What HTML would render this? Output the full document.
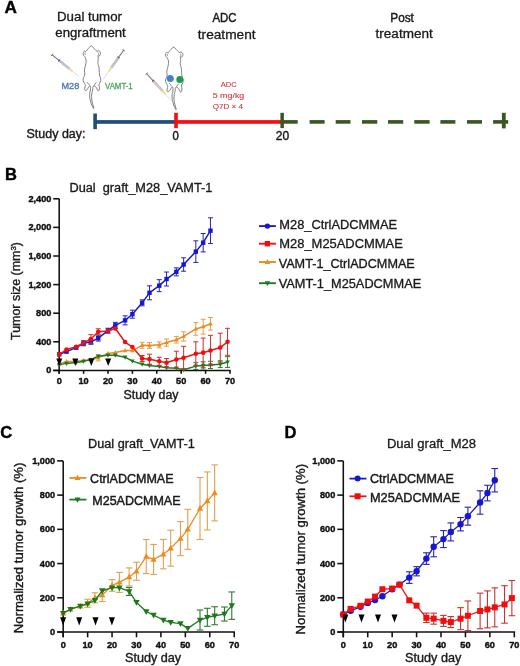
<!DOCTYPE html><html><head><meta charset="utf-8"><title>Figure</title><style>html,body{margin:0;padding:0;background:#fff;}svg{display:block;}text{font-family:'Liberation Sans', Arial, sans-serif;}</style></head><body>
<svg width="520" height="666" viewBox="0 0 520 666">
<rect width="520" height="666" fill="#fff"/>
<g transform="translate(0,0)" fill="#fff" stroke="#5e5e5e" stroke-width="0.8" stroke-linejoin="round">
<path d="M91.20,46.00 C92.40,46.00 92.00,46.52 93.20,47.60 C94.40,48.68 94.06,48.52 95.20,49.60 C96.34,50.68 95.98,50.81 97.00,51.20 C98.02,51.59 97.64,50.60 98.60,50.90 C99.56,51.20 99.72,51.09 100.20,52.20 C100.68,53.31 100.56,53.46 100.20,54.60 C99.84,55.74 99.69,55.70 99.00,56.00 C98.31,56.30 98.11,55.12 97.90,55.60 C97.69,56.08 98.24,56.13 98.30,57.60 C98.36,59.07 98.22,58.73 98.10,60.50 C97.98,62.27 97.66,61.55 97.90,63.50 C98.14,65.45 98.51,64.75 98.90,67.00 C99.29,69.25 98.99,68.60 99.20,71.00 C99.41,73.40 99.15,72.66 99.60,75.00 C100.05,77.34 100.52,76.70 100.70,78.80 C100.88,80.90 100.71,80.20 100.20,82.00 C99.69,83.80 99.21,83.06 99.00,84.80 C98.79,86.54 99.59,86.03 99.50,87.80 C99.41,89.57 99.27,90.01 98.70,90.70 C98.13,91.39 98.23,90.91 97.60,90.10 C96.97,89.29 97.38,89.14 96.60,88.00 C95.82,86.86 95.99,86.78 95.00,86.30 C94.01,85.82 94.02,85.29 93.30,86.40 C92.58,87.51 93.08,87.42 92.60,90.00 C92.12,92.58 91.88,91.70 91.70,95.00 C91.52,98.30 91.43,97.31 92.00,101.00 C92.57,104.69 93.33,105.38 93.60,107.30 C93.87,109.22 93.80,109.14 92.90,107.40 C92.00,105.66 91.56,105.22 90.60,101.50 C89.64,97.78 89.76,98.45 89.70,95.00 C89.64,91.55 90.19,92.58 90.40,90.00 C90.61,87.42 90.76,87.51 90.40,86.40 C90.04,85.29 89.98,85.67 89.20,86.30 C88.42,86.93 88.73,87.27 87.80,88.50 C86.87,89.73 87.03,90.10 86.10,90.40 C85.17,90.70 85.00,90.64 84.70,89.50 C84.40,88.36 84.92,88.01 85.10,86.60 C85.28,85.19 85.69,86.18 85.30,84.80 C84.91,83.42 84.43,83.80 83.80,82.00 C83.17,80.20 82.96,80.96 83.20,78.80 C83.44,76.64 84.21,77.62 84.60,74.80 C84.99,71.98 84.20,72.34 84.50,69.40 C84.80,66.46 85.12,67.52 85.60,65.00 C86.08,62.48 86.19,63.22 86.10,61.00 C86.01,58.78 85.81,59.04 85.30,57.60 C84.79,56.16 85.00,57.04 84.40,56.20 C83.80,55.36 83.60,55.94 83.30,54.80 C83.00,53.66 83.01,53.51 83.40,52.40 C83.79,51.29 83.88,51.40 84.60,51.10 C85.32,50.80 84.96,51.85 85.80,51.40 C86.64,50.95 86.38,50.74 87.40,49.60 C88.42,48.46 88.06,48.68 89.20,47.60 C90.34,46.52 90.00,46.00 91.20,46.00 Z"/>
<path d="M85.9,52.6 C84.8,52.8 84.6,54.4 85.6,55.0" fill="none" stroke-width="0.6"/>
<path d="M97.6,52.6 C98.7,52.8 98.9,54.4 97.9,55.0" fill="none" stroke-width="0.6"/>
<path d="M86.9,82.0 C87.9,83.2 88.8,84.2 89.6,85.4" fill="none" stroke-width="0.7"/>
<path d="M96.3,82.4 C95.4,83.6 94.6,84.6 93.9,85.7" fill="none" stroke-width="0.7"/>
</g>
<g transform="translate(82.4,1.2)" fill="#fff" stroke="#5e5e5e" stroke-width="0.8" stroke-linejoin="round">
<path d="M91.20,46.00 C92.40,46.00 92.00,46.52 93.20,47.60 C94.40,48.68 94.06,48.52 95.20,49.60 C96.34,50.68 95.98,50.81 97.00,51.20 C98.02,51.59 97.64,50.60 98.60,50.90 C99.56,51.20 99.72,51.09 100.20,52.20 C100.68,53.31 100.56,53.46 100.20,54.60 C99.84,55.74 99.69,55.70 99.00,56.00 C98.31,56.30 98.11,55.12 97.90,55.60 C97.69,56.08 98.24,56.13 98.30,57.60 C98.36,59.07 98.22,58.73 98.10,60.50 C97.98,62.27 97.66,61.55 97.90,63.50 C98.14,65.45 98.51,64.75 98.90,67.00 C99.29,69.25 98.99,68.60 99.20,71.00 C99.41,73.40 99.15,72.66 99.60,75.00 C100.05,77.34 100.52,76.70 100.70,78.80 C100.88,80.90 100.71,80.20 100.20,82.00 C99.69,83.80 99.21,83.06 99.00,84.80 C98.79,86.54 99.59,86.03 99.50,87.80 C99.41,89.57 99.27,90.01 98.70,90.70 C98.13,91.39 98.23,90.91 97.60,90.10 C96.97,89.29 97.38,89.14 96.60,88.00 C95.82,86.86 95.99,86.78 95.00,86.30 C94.01,85.82 94.02,85.29 93.30,86.40 C92.58,87.51 93.08,87.42 92.60,90.00 C92.12,92.58 91.88,91.70 91.70,95.00 C91.52,98.30 91.43,97.31 92.00,101.00 C92.57,104.69 93.33,105.38 93.60,107.30 C93.87,109.22 93.80,109.14 92.90,107.40 C92.00,105.66 91.56,105.22 90.60,101.50 C89.64,97.78 89.76,98.45 89.70,95.00 C89.64,91.55 90.19,92.58 90.40,90.00 C90.61,87.42 90.76,87.51 90.40,86.40 C90.04,85.29 89.98,85.67 89.20,86.30 C88.42,86.93 88.73,87.27 87.80,88.50 C86.87,89.73 87.03,90.10 86.10,90.40 C85.17,90.70 85.00,90.64 84.70,89.50 C84.40,88.36 84.92,88.01 85.10,86.60 C85.28,85.19 85.69,86.18 85.30,84.80 C84.91,83.42 84.43,83.80 83.80,82.00 C83.17,80.20 82.96,80.96 83.20,78.80 C83.44,76.64 84.21,77.62 84.60,74.80 C84.99,71.98 84.20,72.34 84.50,69.40 C84.80,66.46 85.12,67.52 85.60,65.00 C86.08,62.48 86.19,63.22 86.10,61.00 C86.01,58.78 85.81,59.04 85.30,57.60 C84.79,56.16 85.00,57.04 84.40,56.20 C83.80,55.36 83.60,55.94 83.30,54.80 C83.00,53.66 83.01,53.51 83.40,52.40 C83.79,51.29 83.88,51.40 84.60,51.10 C85.32,50.80 84.96,51.85 85.80,51.40 C86.64,50.95 86.38,50.74 87.40,49.60 C88.42,48.46 88.06,48.68 89.20,47.60 C90.34,46.52 90.00,46.00 91.20,46.00 Z"/>
<path d="M85.9,52.6 C84.8,52.8 84.6,54.4 85.6,55.0" fill="none" stroke-width="0.6"/>
<path d="M97.6,52.6 C98.7,52.8 98.9,54.4 97.9,55.0" fill="none" stroke-width="0.6"/>
<path d="M86.9,82.0 C87.9,83.2 88.8,84.2 89.6,85.4" fill="none" stroke-width="0.7"/>
<path d="M96.3,82.4 C95.4,83.6 94.6,84.6 93.9,85.7" fill="none" stroke-width="0.7"/>
</g>
<circle cx="170.3" cy="78.4" r="3.5" fill="#3f83d6"/>
<circle cx="179.8" cy="79.5" r="3.5" fill="#1aa04a"/>
<g transform="translate(51.9,54.6) rotate(39.09)">
<line x1="0.3" y1="-1.5" x2="0.3" y2="1.5" stroke="#6a6a6a" stroke-width="0.9"/>
<line x1="0" y1="0" x2="10.18" y2="0" stroke="#6e6e6e" stroke-width="1.0"/>
<rect x="8.84" y="-1.3" width="1.2" height="2.6" fill="#555"/>
<rect x="10.18" y="-1.05" width="12.33" height="2.1" fill="#b7c3df" stroke="#999" stroke-width="0.35"/>
<rect x="21.44" y="-0.95" width="5.36" height="1.9" fill="#eed77a" opacity="0.9"/>
<line x1="26.80" y1="0" x2="35.22" y2="0" stroke="#ddd4ec" stroke-width="0.8"/>
</g>
<g transform="translate(123.8,50.0) rotate(125.28)">
<line x1="0.3" y1="-1.5" x2="0.3" y2="1.5" stroke="#6a6a6a" stroke-width="0.9"/>
<line x1="0" y1="0" x2="9.87" y2="0" stroke="#6e6e6e" stroke-width="1.0"/>
<rect x="8.57" y="-1.3" width="1.2" height="2.6" fill="#555"/>
<rect x="9.87" y="-1.05" width="11.95" height="2.1" fill="#c4c4bc" stroke="#999" stroke-width="0.35"/>
<rect x="20.78" y="-0.95" width="5.19" height="1.9" fill="#eed77a" opacity="0.9"/>
<line x1="25.97" y1="0" x2="35.82" y2="0" stroke="#ddd4ec" stroke-width="0.8"/>
</g>
<g transform="translate(146.5,73.5) rotate(47.46)">
<line x1="0.3" y1="-1.5" x2="0.3" y2="1.5" stroke="#6a6a6a" stroke-width="0.9"/>
<line x1="0" y1="0" x2="10.62" y2="0" stroke="#6e6e6e" stroke-width="1.0"/>
<rect x="9.23" y="-1.3" width="1.2" height="2.6" fill="#555"/>
<rect x="10.62" y="-1.05" width="12.86" height="2.1" fill="#dcc4cc" stroke="#999" stroke-width="0.35"/>
<rect x="22.37" y="-0.95" width="5.59" height="1.9" fill="#eed77a" opacity="0.9"/>
<line x1="27.96" y1="0" x2="37.64" y2="0" stroke="#ddd4ec" stroke-width="0.8"/>
</g>
<text x="4.60" y="13.30" font-size="17.2" text-anchor="start" font-weight="bold" fill="#000" stroke="#000" stroke-width="0.4" >A</text>
<text x="57.00" y="21.40" font-size="12.5" text-anchor="start" font-weight="normal" fill="#1a1a1a" stroke="#1a1a1a" stroke-width="0.3103405968432488" textLength="65.00" lengthAdjust="spacingAndGlyphs" >Dual tumor</text>
<text x="55.30" y="37.20" font-size="12.5" text-anchor="start" font-weight="normal" fill="#1a1a1a" stroke="#1a1a1a" stroke-width="0.31731771595900443" textLength="70.50" lengthAdjust="spacingAndGlyphs" >engraftment</text>
<text x="212.50" y="22.30" font-size="12.5" text-anchor="start" font-weight="normal" fill="#1a1a1a" stroke="#1a1a1a" stroke-width="0.4797187893139939" textLength="24.00" lengthAdjust="spacingAndGlyphs" >ADC</text>
<text x="197.80" y="38.50" font-size="12.5" text-anchor="start" font-weight="normal" fill="#1a1a1a" stroke="#1a1a1a" stroke-width="0.27576205978100027" textLength="57.80" lengthAdjust="spacingAndGlyphs" >treatment</text>
<text x="390.30" y="22.30" font-size="12.5" text-anchor="start" font-weight="normal" fill="#1a1a1a" stroke="#1a1a1a" stroke-width="0.44208652194283926" textLength="23.60" lengthAdjust="spacingAndGlyphs" >Post</text>
<text x="375.60" y="38.40" font-size="12.5" text-anchor="start" font-weight="normal" fill="#1a1a1a" stroke="#1a1a1a" stroke-width="0.2903462562888429" textLength="57.10" lengthAdjust="spacingAndGlyphs" >treatment</text>
<text x="26.50" y="137.70" font-size="12.6" text-anchor="start" font-weight="normal" fill="#1a1a1a" stroke="#1a1a1a" stroke-width="0.38992768279374307" textLength="59.00" lengthAdjust="spacingAndGlyphs" >Study day:</text>
<text x="172.50" y="140.40" font-size="12.6" text-anchor="start" font-weight="normal" fill="#1a1a1a" stroke="#1a1a1a" stroke-width="0.49184579938184886" textLength="6.30" lengthAdjust="spacingAndGlyphs" >0</text>
<text x="275.80" y="140.40" font-size="12.6" text-anchor="start" font-weight="normal" fill="#1a1a1a" stroke="#1a1a1a" stroke-width="0.4285471199775218" textLength="13.40" lengthAdjust="spacingAndGlyphs" >20</text>
<rect x="95" y="120.1" width="81" height="3.7" fill="#1f4e79"/>
<rect x="93.3" y="113.5" width="3.6" height="15.7" fill="#1f4e79"/>
<rect x="176" y="120.1" width="106" height="3.7" fill="#f51010"/>
<rect x="174.2" y="112.8" width="3.6" height="15.4" fill="#f51010"/>
<rect x="282.0" y="120.1" width="15.7" height="3.6" fill="#385723"/>
<rect x="309.6" y="120.1" width="15.0" height="3.6" fill="#385723"/>
<rect x="335.7" y="120.1" width="14.8" height="3.6" fill="#385723"/>
<rect x="362.0" y="120.1" width="15.3" height="3.6" fill="#385723"/>
<rect x="388.0" y="120.1" width="15.2" height="3.6" fill="#385723"/>
<rect x="414.3" y="120.1" width="15.3" height="3.6" fill="#385723"/>
<rect x="440.4" y="120.1" width="15.0" height="3.6" fill="#385723"/>
<rect x="467.0" y="120.1" width="15.0" height="3.6" fill="#385723"/>
<rect x="493.1" y="120.1" width="15.1" height="3.6" fill="#385723"/>
<rect x="280.4" y="112.8" width="3.5" height="15.3" fill="#385723"/>
<rect x="501.9" y="112.8" width="3.8" height="15.6" fill="#385723"/>
<text x="220.80" y="86.70" font-size="8" text-anchor="start" font-weight="normal" fill="#cc3a3f" stroke="#cc3a3f" stroke-width="0.12" textLength="15.80" lengthAdjust="spacingAndGlyphs" >ADC</text>
<text x="212.70" y="98.30" font-size="8" text-anchor="start" font-weight="normal" fill="#cc3a3f" stroke="#cc3a3f" stroke-width="0.12" textLength="31.60" lengthAdjust="spacingAndGlyphs" >5 mg/kg</text>
<text x="212.70" y="109.20" font-size="8" text-anchor="start" font-weight="normal" fill="#cc3a3f" stroke="#cc3a3f" stroke-width="0.12" textLength="30.20" lengthAdjust="spacingAndGlyphs" >Q7D × 4</text>
<text x="61.50" y="88.60" font-size="8.4" text-anchor="start" font-weight="normal" fill="#4a78b0" stroke="#4a78b0" stroke-width="0.3" textLength="17.80" lengthAdjust="spacingAndGlyphs" >M28</text>
<text x="105.00" y="88.60" font-size="8.4" text-anchor="start" font-weight="normal" fill="#4aa460" stroke="#4aa460" stroke-width="0.3" textLength="27.70" lengthAdjust="spacingAndGlyphs" >VAMT-1</text>
<text x="5.00" y="179.60" font-size="16.5" text-anchor="start" font-weight="bold" fill="#000" stroke="#000" stroke-width="0.4" >B</text>
<text x="69.50" y="191.60" font-size="12" text-anchor="start" font-weight="normal" fill="#1a1a1a" stroke="#1a1a1a" stroke-width="0.3147820995399414" textLength="142.80" lengthAdjust="spacingAndGlyphs" >Dual&#160; graft_M28_VAMT-1</text>
<line x1="59.2" y1="198.79999999999995" x2="59.2" y2="373.79999999999995" stroke="#111" stroke-width="1.55"/>
<line x1="53.2" y1="370.4" x2="230.775" y2="370.4" stroke="#111" stroke-width="1.55"/>
<line x1="53.2" y1="370.40" x2="59.2" y2="370.40" stroke="#111" stroke-width="1.55"/>
<text x="51.40" y="373.40" font-size="9.2" text-anchor="end" font-weight="bold" fill="#111" stroke="#111" stroke-width="0.4" >0</text>
<line x1="53.2" y1="341.80" x2="59.2" y2="341.80" stroke="#111" stroke-width="1.55"/>
<text x="51.40" y="344.80" font-size="9.2" text-anchor="end" font-weight="bold" fill="#111" stroke="#111" stroke-width="0.4" >400</text>
<line x1="53.2" y1="313.20" x2="59.2" y2="313.20" stroke="#111" stroke-width="1.55"/>
<text x="51.40" y="316.20" font-size="9.2" text-anchor="end" font-weight="bold" fill="#111" stroke="#111" stroke-width="0.4" >800</text>
<line x1="53.2" y1="284.60" x2="59.2" y2="284.60" stroke="#111" stroke-width="1.55"/>
<text x="51.40" y="287.60" font-size="9.2" text-anchor="end" font-weight="bold" fill="#111" stroke="#111" stroke-width="0.4" >1,200</text>
<line x1="53.2" y1="256.00" x2="59.2" y2="256.00" stroke="#111" stroke-width="1.55"/>
<text x="51.40" y="259.00" font-size="9.2" text-anchor="end" font-weight="bold" fill="#111" stroke="#111" stroke-width="0.4" >1,600</text>
<line x1="53.2" y1="227.40" x2="59.2" y2="227.40" stroke="#111" stroke-width="1.55"/>
<text x="51.40" y="230.40" font-size="9.2" text-anchor="end" font-weight="bold" fill="#111" stroke="#111" stroke-width="0.4" >2,000</text>
<line x1="53.2" y1="198.80" x2="59.2" y2="198.80" stroke="#111" stroke-width="1.55"/>
<text x="51.40" y="201.80" font-size="9.2" text-anchor="end" font-weight="bold" fill="#111" stroke="#111" stroke-width="0.4" >2,400</text>
<line x1="59.20" y1="370.4" x2="59.20" y2="373.79999999999995" stroke="#111" stroke-width="1.55"/>
<text x="59.20" y="383.60" font-size="9.2" text-anchor="middle" font-weight="bold" fill="#111" stroke="#111" stroke-width="0.4" >0</text>
<line x1="83.60" y1="370.4" x2="83.60" y2="373.79999999999995" stroke="#111" stroke-width="1.55"/>
<text x="83.60" y="383.60" font-size="9.2" text-anchor="middle" font-weight="bold" fill="#111" stroke="#111" stroke-width="0.4" >10</text>
<line x1="108.00" y1="370.4" x2="108.00" y2="373.79999999999995" stroke="#111" stroke-width="1.55"/>
<text x="108.00" y="383.60" font-size="9.2" text-anchor="middle" font-weight="bold" fill="#111" stroke="#111" stroke-width="0.4" >20</text>
<line x1="132.40" y1="370.4" x2="132.40" y2="373.79999999999995" stroke="#111" stroke-width="1.55"/>
<text x="132.40" y="383.60" font-size="9.2" text-anchor="middle" font-weight="bold" fill="#111" stroke="#111" stroke-width="0.4" >30</text>
<line x1="156.80" y1="370.4" x2="156.80" y2="373.79999999999995" stroke="#111" stroke-width="1.55"/>
<text x="156.80" y="383.60" font-size="9.2" text-anchor="middle" font-weight="bold" fill="#111" stroke="#111" stroke-width="0.4" >40</text>
<line x1="181.20" y1="370.4" x2="181.20" y2="373.79999999999995" stroke="#111" stroke-width="1.55"/>
<text x="181.20" y="383.60" font-size="9.2" text-anchor="middle" font-weight="bold" fill="#111" stroke="#111" stroke-width="0.4" >50</text>
<line x1="205.60" y1="370.4" x2="205.60" y2="373.79999999999995" stroke="#111" stroke-width="1.55"/>
<text x="205.60" y="383.60" font-size="9.2" text-anchor="middle" font-weight="bold" fill="#111" stroke="#111" stroke-width="0.4" >60</text>
<line x1="230.00" y1="370.4" x2="230.00" y2="373.79999999999995" stroke="#111" stroke-width="1.55"/>
<text x="230.00" y="383.60" font-size="9.2" text-anchor="middle" font-weight="bold" fill="#111" stroke="#111" stroke-width="0.4" >70</text>
<text x="123.50" y="398.80" font-size="12.6" text-anchor="start" font-weight="normal" fill="#1a1a1a" stroke="#1a1a1a" stroke-width="0.4004334633357927" textLength="55.00" lengthAdjust="spacingAndGlyphs" >Study day</text>
<text transform="translate(20.2,340) rotate(-90)" font-size="12.6" fill="#1a1a1a" stroke="#1a1a1a" stroke-width="0.38" textLength="98" lengthAdjust="spacingAndGlyphs">Tumor size (mm<tspan font-size="8" dy="-4.5">3</tspan><tspan dy="4.5">)</tspan></text>
<line x1="98.24" y1="354.89" x2="98.24" y2="360.89" stroke="#e0a050" stroke-width="1.0"/>
<line x1="95.74" y1="354.89" x2="100.74" y2="354.89" stroke="#e0a050" stroke-width="1.0"/>
<line x1="95.74" y1="360.89" x2="100.74" y2="360.89" stroke="#e0a050" stroke-width="1.0"/>
<line x1="142.16" y1="342.30" x2="142.16" y2="348.30" stroke="#e0a050" stroke-width="1.0"/>
<line x1="139.66" y1="342.30" x2="144.66" y2="342.30" stroke="#e0a050" stroke-width="1.0"/>
<line x1="139.66" y1="348.30" x2="144.66" y2="348.30" stroke="#e0a050" stroke-width="1.0"/>
<line x1="149.48" y1="342.59" x2="149.48" y2="348.59" stroke="#e0a050" stroke-width="1.0"/>
<line x1="146.98" y1="342.59" x2="151.98" y2="342.59" stroke="#e0a050" stroke-width="1.0"/>
<line x1="146.98" y1="348.59" x2="151.98" y2="348.59" stroke="#e0a050" stroke-width="1.0"/>
<line x1="159.24" y1="341.87" x2="159.24" y2="347.87" stroke="#e0a050" stroke-width="1.0"/>
<line x1="156.74" y1="341.87" x2="161.74" y2="341.87" stroke="#e0a050" stroke-width="1.0"/>
<line x1="156.74" y1="347.87" x2="161.74" y2="347.87" stroke="#e0a050" stroke-width="1.0"/>
<line x1="166.56" y1="338.99" x2="166.56" y2="346.19" stroke="#e0a050" stroke-width="1.0"/>
<line x1="164.06" y1="338.99" x2="169.06" y2="338.99" stroke="#e0a050" stroke-width="1.0"/>
<line x1="164.06" y1="346.19" x2="169.06" y2="346.19" stroke="#e0a050" stroke-width="1.0"/>
<line x1="176.32" y1="336.43" x2="176.32" y2="343.03" stroke="#e0a050" stroke-width="1.0"/>
<line x1="173.82" y1="336.43" x2="178.82" y2="336.43" stroke="#e0a050" stroke-width="1.0"/>
<line x1="173.82" y1="343.03" x2="178.82" y2="343.03" stroke="#e0a050" stroke-width="1.0"/>
<line x1="183.64" y1="331.74" x2="183.64" y2="341.14" stroke="#e0a050" stroke-width="1.0"/>
<line x1="181.14" y1="331.74" x2="186.14" y2="331.74" stroke="#e0a050" stroke-width="1.0"/>
<line x1="181.14" y1="341.14" x2="186.14" y2="341.14" stroke="#e0a050" stroke-width="1.0"/>
<line x1="195.84" y1="322.63" x2="195.84" y2="335.23" stroke="#e0a050" stroke-width="1.0"/>
<line x1="193.34" y1="322.63" x2="198.34" y2="322.63" stroke="#e0a050" stroke-width="1.0"/>
<line x1="193.34" y1="335.23" x2="198.34" y2="335.23" stroke="#e0a050" stroke-width="1.0"/>
<line x1="203.16" y1="319.31" x2="203.16" y2="334.11" stroke="#e0a050" stroke-width="1.0"/>
<line x1="200.66" y1="319.31" x2="205.66" y2="319.31" stroke="#e0a050" stroke-width="1.0"/>
<line x1="200.66" y1="334.11" x2="205.66" y2="334.11" stroke="#e0a050" stroke-width="1.0"/>
<line x1="210.48" y1="317.48" x2="210.48" y2="330.08" stroke="#e0a050" stroke-width="1.0"/>
<line x1="207.98" y1="317.48" x2="212.98" y2="317.48" stroke="#e0a050" stroke-width="1.0"/>
<line x1="207.98" y1="330.08" x2="212.98" y2="330.08" stroke="#e0a050" stroke-width="1.0"/>
<path d="M59.20,363.96 L66.52,361.39 L76.28,361.25 L83.60,360.39 L90.92,359.67 L98.24,357.89 L108.00,353.38 L115.32,352.60 L125.08,350.59 L132.40,350.59 L142.16,345.30 L149.48,345.59 L159.24,344.87 L166.56,342.59 L176.32,339.73 L183.64,336.44 L195.84,328.93 L203.16,326.71 L210.48,323.78" fill="none" stroke="#e68c2c" stroke-width="1.5" stroke-linejoin="round"/>
<path d="M59.20,361.48 L61.50,365.62 L56.90,365.62 Z" fill="#f28a18"/>
<path d="M66.52,358.91 L68.82,363.05 L64.22,363.05 Z" fill="#f28a18"/>
<path d="M76.28,358.76 L78.58,362.90 L73.98,362.90 Z" fill="#f28a18"/>
<path d="M83.60,357.91 L85.90,362.05 L81.30,362.05 Z" fill="#f28a18"/>
<path d="M90.92,357.19 L93.22,361.33 L88.62,361.33 Z" fill="#f28a18"/>
<path d="M98.24,355.40 L100.54,359.54 L95.94,359.54 Z" fill="#f28a18"/>
<path d="M108.00,350.90 L110.30,355.04 L105.70,355.04 Z" fill="#f28a18"/>
<path d="M115.32,350.11 L117.62,354.25 L113.02,354.25 Z" fill="#f28a18"/>
<path d="M125.08,348.11 L127.38,352.25 L122.78,352.25 Z" fill="#f28a18"/>
<path d="M132.40,348.11 L134.70,352.25 L130.10,352.25 Z" fill="#f28a18"/>
<path d="M142.16,342.82 L144.46,346.96 L139.86,346.96 Z" fill="#f28a18"/>
<path d="M149.48,343.11 L151.78,347.25 L147.18,347.25 Z" fill="#f28a18"/>
<path d="M159.24,342.39 L161.54,346.53 L156.94,346.53 Z" fill="#f28a18"/>
<path d="M166.56,340.10 L168.86,344.24 L164.26,344.24 Z" fill="#f28a18"/>
<path d="M176.32,337.24 L178.62,341.38 L174.02,341.38 Z" fill="#f28a18"/>
<path d="M183.64,333.95 L185.94,338.09 L181.34,338.09 Z" fill="#f28a18"/>
<path d="M195.84,326.45 L198.14,330.59 L193.54,330.59 Z" fill="#f28a18"/>
<path d="M203.16,324.23 L205.46,328.37 L200.86,328.37 Z" fill="#f28a18"/>
<path d="M210.48,321.30 L212.78,325.44 L208.18,325.44 Z" fill="#f28a18"/>
<line x1="195.84" y1="362.71" x2="195.84" y2="369.51" stroke="#2f7a2f" stroke-width="1.0"/>
<line x1="193.34" y1="362.71" x2="198.34" y2="362.71" stroke="#2f7a2f" stroke-width="1.0"/>
<line x1="193.34" y1="369.51" x2="198.34" y2="369.51" stroke="#2f7a2f" stroke-width="1.0"/>
<line x1="203.16" y1="361.79" x2="203.16" y2="369.00" stroke="#2f7a2f" stroke-width="1.0"/>
<line x1="200.66" y1="361.79" x2="205.66" y2="361.79" stroke="#2f7a2f" stroke-width="1.0"/>
<line x1="200.66" y1="369.00" x2="205.66" y2="369.00" stroke="#2f7a2f" stroke-width="1.0"/>
<line x1="210.48" y1="361.29" x2="210.48" y2="368.49" stroke="#2f7a2f" stroke-width="1.0"/>
<line x1="207.98" y1="361.29" x2="212.98" y2="361.29" stroke="#2f7a2f" stroke-width="1.0"/>
<line x1="207.98" y1="368.49" x2="212.98" y2="368.49" stroke="#2f7a2f" stroke-width="1.0"/>
<line x1="220.24" y1="360.78" x2="220.24" y2="367.58" stroke="#2f7a2f" stroke-width="1.0"/>
<line x1="217.74" y1="360.78" x2="222.74" y2="360.78" stroke="#2f7a2f" stroke-width="1.0"/>
<line x1="217.74" y1="367.58" x2="222.74" y2="367.58" stroke="#2f7a2f" stroke-width="1.0"/>
<line x1="227.56" y1="356.63" x2="227.56" y2="367.43" stroke="#2f7a2f" stroke-width="1.0"/>
<line x1="225.06" y1="356.63" x2="230.06" y2="356.63" stroke="#2f7a2f" stroke-width="1.0"/>
<line x1="225.06" y1="367.43" x2="230.06" y2="367.43" stroke="#2f7a2f" stroke-width="1.0"/>
<path d="M59.20,364.89 L66.52,363.39 L76.28,362.61 L83.60,361.39 L90.92,359.53 L98.24,356.17 L108.00,355.17 L115.32,355.17 L125.08,357.17 L132.40,361.10 L142.16,364.18 L149.48,365.61 L159.24,366.61 L166.56,367.68 L176.32,368.18 L183.64,369.83 L195.84,366.11 L203.16,365.39 L210.48,364.89 L220.24,364.18 L227.56,362.03" fill="none" stroke="#237823" stroke-width="1.5" stroke-linejoin="round"/>
<path d="M59.20,367.38 L61.50,363.24 L56.90,363.24 Z" fill="#1a7a1a"/>
<path d="M66.52,365.88 L68.82,361.74 L64.22,361.74 Z" fill="#1a7a1a"/>
<path d="M76.28,365.09 L78.58,360.95 L73.98,360.95 Z" fill="#1a7a1a"/>
<path d="M83.60,363.87 L85.90,359.73 L81.30,359.73 Z" fill="#1a7a1a"/>
<path d="M90.92,362.02 L93.22,357.88 L88.62,357.88 Z" fill="#1a7a1a"/>
<path d="M98.24,358.66 L100.54,354.52 L95.94,354.52 Z" fill="#1a7a1a"/>
<path d="M108.00,357.65 L110.30,353.51 L105.70,353.51 Z" fill="#1a7a1a"/>
<path d="M115.32,357.65 L117.62,353.51 L113.02,353.51 Z" fill="#1a7a1a"/>
<path d="M125.08,359.66 L127.38,355.52 L122.78,355.52 Z" fill="#1a7a1a"/>
<path d="M132.40,363.59 L134.70,359.45 L130.10,359.45 Z" fill="#1a7a1a"/>
<path d="M142.16,366.66 L144.46,362.52 L139.86,362.52 Z" fill="#1a7a1a"/>
<path d="M149.48,368.09 L151.78,363.95 L147.18,363.95 Z" fill="#1a7a1a"/>
<path d="M159.24,369.09 L161.54,364.95 L156.94,364.95 Z" fill="#1a7a1a"/>
<path d="M166.56,370.17 L168.86,366.03 L164.26,366.03 Z" fill="#1a7a1a"/>
<path d="M176.32,370.67 L178.62,366.53 L174.02,366.53 Z" fill="#1a7a1a"/>
<path d="M183.64,372.31 L185.94,368.17 L181.34,368.17 Z" fill="#1a7a1a"/>
<path d="M195.84,368.59 L198.14,364.45 L193.54,364.45 Z" fill="#1a7a1a"/>
<path d="M203.16,367.88 L205.46,363.74 L200.86,363.74 Z" fill="#1a7a1a"/>
<path d="M210.48,367.38 L212.78,363.24 L208.18,363.24 Z" fill="#1a7a1a"/>
<path d="M220.24,366.66 L222.54,362.52 L217.94,362.52 Z" fill="#1a7a1a"/>
<path d="M227.56,364.52 L229.86,360.38 L225.26,360.38 Z" fill="#1a7a1a"/>
<line x1="83.60" y1="340.73" x2="83.60" y2="345.73" stroke="#2424b4" stroke-width="1.0"/>
<line x1="81.10" y1="340.73" x2="86.10" y2="340.73" stroke="#2424b4" stroke-width="1.0"/>
<line x1="81.10" y1="345.73" x2="86.10" y2="345.73" stroke="#2424b4" stroke-width="1.0"/>
<line x1="90.92" y1="339.30" x2="90.92" y2="344.30" stroke="#2424b4" stroke-width="1.0"/>
<line x1="88.42" y1="339.30" x2="93.42" y2="339.30" stroke="#2424b4" stroke-width="1.0"/>
<line x1="88.42" y1="344.30" x2="93.42" y2="344.30" stroke="#2424b4" stroke-width="1.0"/>
<line x1="98.24" y1="335.08" x2="98.24" y2="341.08" stroke="#2424b4" stroke-width="1.0"/>
<line x1="95.74" y1="335.08" x2="100.74" y2="335.08" stroke="#2424b4" stroke-width="1.0"/>
<line x1="95.74" y1="341.08" x2="100.74" y2="341.08" stroke="#2424b4" stroke-width="1.0"/>
<line x1="108.00" y1="328.22" x2="108.00" y2="333.22" stroke="#2424b4" stroke-width="1.0"/>
<line x1="105.50" y1="328.22" x2="110.50" y2="328.22" stroke="#2424b4" stroke-width="1.0"/>
<line x1="105.50" y1="333.22" x2="110.50" y2="333.22" stroke="#2424b4" stroke-width="1.0"/>
<line x1="115.32" y1="322.35" x2="115.32" y2="328.35" stroke="#2424b4" stroke-width="1.0"/>
<line x1="112.82" y1="322.35" x2="117.82" y2="322.35" stroke="#2424b4" stroke-width="1.0"/>
<line x1="112.82" y1="328.35" x2="117.82" y2="328.35" stroke="#2424b4" stroke-width="1.0"/>
<line x1="125.08" y1="315.85" x2="125.08" y2="324.85" stroke="#2424b4" stroke-width="1.0"/>
<line x1="122.58" y1="315.85" x2="127.58" y2="315.85" stroke="#2424b4" stroke-width="1.0"/>
<line x1="122.58" y1="324.85" x2="127.58" y2="324.85" stroke="#2424b4" stroke-width="1.0"/>
<line x1="132.40" y1="310.20" x2="132.40" y2="318.20" stroke="#2424b4" stroke-width="1.0"/>
<line x1="129.90" y1="310.20" x2="134.90" y2="310.20" stroke="#2424b4" stroke-width="1.0"/>
<line x1="129.90" y1="318.20" x2="134.90" y2="318.20" stroke="#2424b4" stroke-width="1.0"/>
<line x1="142.16" y1="299.83" x2="142.16" y2="305.83" stroke="#2424b4" stroke-width="1.0"/>
<line x1="139.66" y1="299.83" x2="144.66" y2="299.83" stroke="#2424b4" stroke-width="1.0"/>
<line x1="139.66" y1="305.83" x2="144.66" y2="305.83" stroke="#2424b4" stroke-width="1.0"/>
<line x1="149.48" y1="285.82" x2="149.48" y2="299.82" stroke="#2424b4" stroke-width="1.0"/>
<line x1="146.98" y1="285.82" x2="151.98" y2="285.82" stroke="#2424b4" stroke-width="1.0"/>
<line x1="146.98" y1="299.82" x2="151.98" y2="299.82" stroke="#2424b4" stroke-width="1.0"/>
<line x1="159.24" y1="279.67" x2="159.24" y2="291.67" stroke="#2424b4" stroke-width="1.0"/>
<line x1="156.74" y1="279.67" x2="161.74" y2="279.67" stroke="#2424b4" stroke-width="1.0"/>
<line x1="156.74" y1="291.67" x2="161.74" y2="291.67" stroke="#2424b4" stroke-width="1.0"/>
<line x1="166.56" y1="272.02" x2="166.56" y2="286.02" stroke="#2424b4" stroke-width="1.0"/>
<line x1="164.06" y1="272.02" x2="169.06" y2="272.02" stroke="#2424b4" stroke-width="1.0"/>
<line x1="164.06" y1="286.02" x2="169.06" y2="286.02" stroke="#2424b4" stroke-width="1.0"/>
<line x1="176.32" y1="267.87" x2="176.32" y2="275.87" stroke="#2424b4" stroke-width="1.0"/>
<line x1="173.82" y1="267.87" x2="178.82" y2="267.87" stroke="#2424b4" stroke-width="1.0"/>
<line x1="173.82" y1="275.87" x2="178.82" y2="275.87" stroke="#2424b4" stroke-width="1.0"/>
<line x1="183.64" y1="257.81" x2="183.64" y2="271.21" stroke="#2424b4" stroke-width="1.0"/>
<line x1="181.14" y1="257.81" x2="186.14" y2="257.81" stroke="#2424b4" stroke-width="1.0"/>
<line x1="181.14" y1="271.21" x2="186.14" y2="271.21" stroke="#2424b4" stroke-width="1.0"/>
<line x1="195.84" y1="240.84" x2="195.84" y2="262.44" stroke="#2424b4" stroke-width="1.0"/>
<line x1="193.34" y1="240.84" x2="198.34" y2="240.84" stroke="#2424b4" stroke-width="1.0"/>
<line x1="193.34" y1="262.44" x2="198.34" y2="262.44" stroke="#2424b4" stroke-width="1.0"/>
<line x1="203.16" y1="233.50" x2="203.16" y2="251.90" stroke="#2424b4" stroke-width="1.0"/>
<line x1="200.66" y1="233.50" x2="205.66" y2="233.50" stroke="#2424b4" stroke-width="1.0"/>
<line x1="200.66" y1="251.90" x2="205.66" y2="251.90" stroke="#2424b4" stroke-width="1.0"/>
<line x1="210.48" y1="217.79" x2="210.48" y2="243.59" stroke="#2424b4" stroke-width="1.0"/>
<line x1="207.98" y1="217.79" x2="212.98" y2="217.79" stroke="#2424b4" stroke-width="1.0"/>
<line x1="207.98" y1="243.59" x2="212.98" y2="243.59" stroke="#2424b4" stroke-width="1.0"/>
<path d="M59.20,354.38 L66.52,351.67 L76.28,347.66 L83.60,343.23 L90.92,341.80 L98.24,338.08 L108.00,330.72 L115.32,325.35 L125.08,320.35 L132.40,314.20 L142.16,302.83 L149.48,292.82 L159.24,285.67 L166.56,279.02 L176.32,271.87 L183.64,264.51 L195.84,251.64 L203.16,242.70 L210.48,230.69" fill="none" stroke="#1c1cc4" stroke-width="1.5" stroke-linejoin="round"/>
<rect x="57.00" y="352.18" width="4.40" height="4.40" fill="#1616d8"/>
<rect x="64.32" y="349.47" width="4.40" height="4.40" fill="#1616d8"/>
<rect x="74.08" y="345.46" width="4.40" height="4.40" fill="#1616d8"/>
<rect x="81.40" y="341.03" width="4.40" height="4.40" fill="#1616d8"/>
<rect x="88.72" y="339.60" width="4.40" height="4.40" fill="#1616d8"/>
<rect x="96.04" y="335.88" width="4.40" height="4.40" fill="#1616d8"/>
<rect x="105.80" y="328.52" width="4.40" height="4.40" fill="#1616d8"/>
<rect x="113.12" y="323.15" width="4.40" height="4.40" fill="#1616d8"/>
<rect x="122.88" y="318.15" width="4.40" height="4.40" fill="#1616d8"/>
<rect x="130.20" y="312.00" width="4.40" height="4.40" fill="#1616d8"/>
<rect x="139.96" y="300.63" width="4.40" height="4.40" fill="#1616d8"/>
<rect x="147.28" y="290.62" width="4.40" height="4.40" fill="#1616d8"/>
<rect x="157.04" y="283.47" width="4.40" height="4.40" fill="#1616d8"/>
<rect x="164.36" y="276.82" width="4.40" height="4.40" fill="#1616d8"/>
<rect x="174.12" y="269.67" width="4.40" height="4.40" fill="#1616d8"/>
<rect x="181.44" y="262.31" width="4.40" height="4.40" fill="#1616d8"/>
<rect x="193.64" y="249.44" width="4.40" height="4.40" fill="#1616d8"/>
<rect x="200.96" y="240.50" width="4.40" height="4.40" fill="#1616d8"/>
<rect x="208.28" y="228.49" width="4.40" height="4.40" fill="#1616d8"/>
<line x1="90.92" y1="334.64" x2="90.92" y2="343.24" stroke="#cc3030" stroke-width="1.0"/>
<line x1="88.42" y1="334.64" x2="93.42" y2="334.64" stroke="#cc3030" stroke-width="1.0"/>
<line x1="88.42" y1="343.24" x2="93.42" y2="343.24" stroke="#cc3030" stroke-width="1.0"/>
<line x1="98.24" y1="328.79" x2="98.24" y2="334.79" stroke="#cc3030" stroke-width="1.0"/>
<line x1="95.74" y1="328.79" x2="100.74" y2="328.79" stroke="#cc3030" stroke-width="1.0"/>
<line x1="95.74" y1="334.79" x2="100.74" y2="334.79" stroke="#cc3030" stroke-width="1.0"/>
<line x1="142.16" y1="355.53" x2="142.16" y2="361.53" stroke="#cc3030" stroke-width="1.0"/>
<line x1="139.66" y1="355.53" x2="144.66" y2="355.53" stroke="#cc3030" stroke-width="1.0"/>
<line x1="139.66" y1="361.53" x2="144.66" y2="361.53" stroke="#cc3030" stroke-width="1.0"/>
<line x1="149.48" y1="354.17" x2="149.48" y2="364.17" stroke="#cc3030" stroke-width="1.0"/>
<line x1="146.98" y1="354.17" x2="151.98" y2="354.17" stroke="#cc3030" stroke-width="1.0"/>
<line x1="146.98" y1="364.17" x2="151.98" y2="364.17" stroke="#cc3030" stroke-width="1.0"/>
<line x1="159.24" y1="357.32" x2="159.24" y2="365.32" stroke="#cc3030" stroke-width="1.0"/>
<line x1="156.74" y1="357.32" x2="161.74" y2="357.32" stroke="#cc3030" stroke-width="1.0"/>
<line x1="156.74" y1="365.32" x2="161.74" y2="365.32" stroke="#cc3030" stroke-width="1.0"/>
<line x1="166.56" y1="358.52" x2="166.56" y2="367.12" stroke="#cc3030" stroke-width="1.0"/>
<line x1="164.06" y1="358.52" x2="169.06" y2="358.52" stroke="#cc3030" stroke-width="1.0"/>
<line x1="164.06" y1="367.12" x2="169.06" y2="367.12" stroke="#cc3030" stroke-width="1.0"/>
<line x1="176.32" y1="351.23" x2="176.32" y2="367.83" stroke="#cc3030" stroke-width="1.0"/>
<line x1="173.82" y1="351.23" x2="178.82" y2="351.23" stroke="#cc3030" stroke-width="1.0"/>
<line x1="173.82" y1="367.83" x2="178.82" y2="367.83" stroke="#cc3030" stroke-width="1.0"/>
<line x1="183.64" y1="346.34" x2="183.64" y2="369.14" stroke="#cc3030" stroke-width="1.0"/>
<line x1="181.14" y1="346.34" x2="186.14" y2="346.34" stroke="#cc3030" stroke-width="1.0"/>
<line x1="181.14" y1="369.14" x2="186.14" y2="369.14" stroke="#cc3030" stroke-width="1.0"/>
<line x1="195.84" y1="341.84" x2="195.84" y2="365.64" stroke="#cc3030" stroke-width="1.0"/>
<line x1="193.34" y1="341.84" x2="198.34" y2="341.84" stroke="#cc3030" stroke-width="1.0"/>
<line x1="193.34" y1="365.64" x2="198.34" y2="365.64" stroke="#cc3030" stroke-width="1.0"/>
<line x1="203.16" y1="338.07" x2="203.16" y2="367.27" stroke="#cc3030" stroke-width="1.0"/>
<line x1="200.66" y1="338.07" x2="205.66" y2="338.07" stroke="#cc3030" stroke-width="1.0"/>
<line x1="200.66" y1="367.27" x2="205.66" y2="367.27" stroke="#cc3030" stroke-width="1.0"/>
<line x1="210.48" y1="335.32" x2="210.48" y2="365.72" stroke="#cc3030" stroke-width="1.0"/>
<line x1="207.98" y1="335.32" x2="212.98" y2="335.32" stroke="#cc3030" stroke-width="1.0"/>
<line x1="207.98" y1="365.72" x2="212.98" y2="365.72" stroke="#cc3030" stroke-width="1.0"/>
<line x1="220.24" y1="333.19" x2="220.24" y2="361.99" stroke="#cc3030" stroke-width="1.0"/>
<line x1="217.74" y1="333.19" x2="222.74" y2="333.19" stroke="#cc3030" stroke-width="1.0"/>
<line x1="217.74" y1="361.99" x2="222.74" y2="361.99" stroke="#cc3030" stroke-width="1.0"/>
<line x1="227.56" y1="328.30" x2="227.56" y2="355.30" stroke="#cc3030" stroke-width="1.0"/>
<line x1="225.06" y1="328.30" x2="230.06" y2="328.30" stroke="#cc3030" stroke-width="1.0"/>
<line x1="225.06" y1="355.30" x2="230.06" y2="355.30" stroke="#cc3030" stroke-width="1.0"/>
<path d="M59.20,354.38 L66.52,349.59 L76.28,346.73 L83.60,342.87 L90.92,338.94 L98.24,331.79 L108.00,330.93 L115.32,328.50 L125.08,342.01 L132.40,347.02 L142.16,358.53 L149.48,359.17 L159.24,361.32 L166.56,362.82 L176.32,359.53 L183.64,357.74 L195.84,353.74 L203.16,352.67 L210.48,350.52 L220.24,347.59 L227.56,341.80" fill="none" stroke="#e81818" stroke-width="1.5" stroke-linejoin="round"/>
<circle cx="59.20" cy="354.38" r="2.30" fill="#f20c0c"/>
<circle cx="66.52" cy="349.59" r="2.30" fill="#f20c0c"/>
<circle cx="76.28" cy="346.73" r="2.30" fill="#f20c0c"/>
<circle cx="83.60" cy="342.87" r="2.30" fill="#f20c0c"/>
<circle cx="90.92" cy="338.94" r="2.30" fill="#f20c0c"/>
<circle cx="98.24" cy="331.79" r="2.30" fill="#f20c0c"/>
<circle cx="108.00" cy="330.93" r="2.30" fill="#f20c0c"/>
<circle cx="115.32" cy="328.50" r="2.30" fill="#f20c0c"/>
<circle cx="125.08" cy="342.01" r="2.30" fill="#f20c0c"/>
<circle cx="132.40" cy="347.02" r="2.30" fill="#f20c0c"/>
<circle cx="142.16" cy="358.53" r="2.30" fill="#f20c0c"/>
<circle cx="149.48" cy="359.17" r="2.30" fill="#f20c0c"/>
<circle cx="159.24" cy="361.32" r="2.30" fill="#f20c0c"/>
<circle cx="166.56" cy="362.82" r="2.30" fill="#f20c0c"/>
<circle cx="176.32" cy="359.53" r="2.30" fill="#f20c0c"/>
<circle cx="183.64" cy="357.74" r="2.30" fill="#f20c0c"/>
<circle cx="195.84" cy="353.74" r="2.30" fill="#f20c0c"/>
<circle cx="203.16" cy="352.67" r="2.30" fill="#f20c0c"/>
<circle cx="210.48" cy="350.52" r="2.30" fill="#f20c0c"/>
<circle cx="220.24" cy="347.59" r="2.30" fill="#f20c0c"/>
<circle cx="227.56" cy="341.80" r="2.30" fill="#f20c0c"/>
<path d="M56.30,358.40 L62.30,358.40 L59.30,366.00 Z" fill="#000"/>
<path d="M72.30,358.40 L78.30,358.40 L75.30,366.00 Z" fill="#000"/>
<path d="M88.30,358.40 L94.30,358.40 L91.30,366.00 Z" fill="#000"/>
<path d="M105.20,358.40 L111.20,358.40 L108.20,366.00 Z" fill="#000"/>
<line x1="259" y1="226.1" x2="275.9" y2="226.1" stroke="#1c1cc4" stroke-width="1.9"/>
<circle cx="267.40" cy="226.10" r="2.70" fill="#1616d8"/>
<text x="279.30" y="228.50" font-size="12" text-anchor="start" font-weight="normal" fill="#1a1a1a" stroke="#1a1a1a" stroke-width="0.3052613423322085" textLength="117.80" lengthAdjust="spacingAndGlyphs" >M28_CtrlADCMMAE</text>
<line x1="259" y1="243.7" x2="275.9" y2="243.7" stroke="#e81818" stroke-width="1.9"/>
<rect x="264.70" y="241.00" width="5.40" height="5.40" fill="#f20c0c"/>
<text x="279.30" y="248.20" font-size="12" text-anchor="start" font-weight="normal" fill="#1a1a1a" stroke="#1a1a1a" stroke-width="0.29891973189471954" textLength="123.50" lengthAdjust="spacingAndGlyphs" >M28_M25ADCMMAE</text>
<line x1="259" y1="262.0" x2="275.9" y2="262.0" stroke="#e68c2c" stroke-width="1.9"/>
<path d="M267.40,259.08 L270.10,263.94 L264.70,263.94 Z" fill="#f28a18"/>
<text x="278.70" y="267.90" font-size="12" text-anchor="start" font-weight="normal" fill="#1a1a1a" stroke="#1a1a1a" stroke-width="0.3229306614390473" textLength="136.10" lengthAdjust="spacingAndGlyphs" >VAMT-1_CtrlADCMMAE</text>
<line x1="259" y1="283.2" x2="275.9" y2="283.2" stroke="#237823" stroke-width="1.9"/>
<path d="M267.40,286.12 L270.10,281.26 L264.70,281.26 Z" fill="#1a7a1a"/>
<text x="278.70" y="287.60" font-size="12" text-anchor="start" font-weight="normal" fill="#1a1a1a" stroke="#1a1a1a" stroke-width="0.31135208307058465" textLength="142.50" lengthAdjust="spacingAndGlyphs" >VAMT-1_M25ADCMMAE</text>
<text x="0.30" y="437.90" font-size="16.5" text-anchor="start" font-weight="bold" fill="#000" stroke="#000" stroke-width="0.4" >C</text>
<text x="88.10" y="447.50" font-size="12" text-anchor="start" font-weight="normal" fill="#1a1a1a" stroke="#1a1a1a" stroke-width="0.32200326264274043" textLength="106.70" lengthAdjust="spacingAndGlyphs" >Dual graft_VAMT-1</text>
<line x1="63.2" y1="460.9" x2="63.2" y2="637.3" stroke="#111" stroke-width="1.55"/>
<line x1="57.2" y1="632.0" x2="234.98499999999999" y2="632.0" stroke="#111" stroke-width="1.55"/>
<line x1="57.2" y1="632.00" x2="63.2" y2="632.00" stroke="#111" stroke-width="1.55"/>
<text x="55.20" y="635.00" font-size="9.2" text-anchor="end" font-weight="bold" fill="#111" stroke="#111" stroke-width="0.4" >0</text>
<line x1="57.2" y1="597.78" x2="63.2" y2="597.78" stroke="#111" stroke-width="1.55"/>
<text x="55.20" y="600.78" font-size="9.2" text-anchor="end" font-weight="bold" fill="#111" stroke="#111" stroke-width="0.4" >200</text>
<line x1="57.2" y1="563.56" x2="63.2" y2="563.56" stroke="#111" stroke-width="1.55"/>
<text x="55.20" y="566.56" font-size="9.2" text-anchor="end" font-weight="bold" fill="#111" stroke="#111" stroke-width="0.4" >400</text>
<line x1="57.2" y1="529.34" x2="63.2" y2="529.34" stroke="#111" stroke-width="1.55"/>
<text x="55.20" y="532.34" font-size="9.2" text-anchor="end" font-weight="bold" fill="#111" stroke="#111" stroke-width="0.4" >600</text>
<line x1="57.2" y1="495.12" x2="63.2" y2="495.12" stroke="#111" stroke-width="1.55"/>
<text x="55.20" y="498.12" font-size="9.2" text-anchor="end" font-weight="bold" fill="#111" stroke="#111" stroke-width="0.4" >800</text>
<line x1="57.2" y1="460.90" x2="63.2" y2="460.90" stroke="#111" stroke-width="1.55"/>
<text x="55.20" y="463.90" font-size="9.2" text-anchor="end" font-weight="bold" fill="#111" stroke="#111" stroke-width="0.4" >1,000</text>
<line x1="63.20" y1="632.0" x2="63.20" y2="637.3" stroke="#111" stroke-width="1.55"/>
<text x="63.20" y="647.60" font-size="9.2" text-anchor="middle" font-weight="bold" fill="#111" stroke="#111" stroke-width="0.4" >0</text>
<line x1="87.63" y1="632.0" x2="87.63" y2="637.3" stroke="#111" stroke-width="1.55"/>
<text x="87.63" y="647.60" font-size="9.2" text-anchor="middle" font-weight="bold" fill="#111" stroke="#111" stroke-width="0.4" >10</text>
<line x1="112.06" y1="632.0" x2="112.06" y2="637.3" stroke="#111" stroke-width="1.55"/>
<text x="112.06" y="647.60" font-size="9.2" text-anchor="middle" font-weight="bold" fill="#111" stroke="#111" stroke-width="0.4" >20</text>
<line x1="136.49" y1="632.0" x2="136.49" y2="637.3" stroke="#111" stroke-width="1.55"/>
<text x="136.49" y="647.60" font-size="9.2" text-anchor="middle" font-weight="bold" fill="#111" stroke="#111" stroke-width="0.4" >30</text>
<line x1="160.92" y1="632.0" x2="160.92" y2="637.3" stroke="#111" stroke-width="1.55"/>
<text x="160.92" y="647.60" font-size="9.2" text-anchor="middle" font-weight="bold" fill="#111" stroke="#111" stroke-width="0.4" >40</text>
<line x1="185.35" y1="632.0" x2="185.35" y2="637.3" stroke="#111" stroke-width="1.55"/>
<text x="185.35" y="647.60" font-size="9.2" text-anchor="middle" font-weight="bold" fill="#111" stroke="#111" stroke-width="0.4" >50</text>
<line x1="209.78" y1="632.0" x2="209.78" y2="637.3" stroke="#111" stroke-width="1.55"/>
<text x="209.78" y="647.60" font-size="9.2" text-anchor="middle" font-weight="bold" fill="#111" stroke="#111" stroke-width="0.4" >60</text>
<line x1="234.21" y1="632.0" x2="234.21" y2="637.3" stroke="#111" stroke-width="1.55"/>
<text x="234.21" y="647.60" font-size="9.2" text-anchor="middle" font-weight="bold" fill="#111" stroke="#111" stroke-width="0.4" >70</text>
<text x="125.00" y="661.50" font-size="12.6" text-anchor="start" font-weight="normal" fill="#1a1a1a" stroke="#1a1a1a" stroke-width="0.3766872843540282" textLength="56.20" lengthAdjust="spacingAndGlyphs" >Study day</text>
<text transform="translate(22.7,633.2) rotate(-90)" font-size="12.4" fill="#1a1a1a" stroke="#1a1a1a" stroke-width="0.38" textLength="170.5" lengthAdjust="spacingAndGlyphs">Normalized tumor growth (%)</text>
<line x1="87.63" y1="599.26" x2="87.63" y2="607.26" stroke="#e0a050" stroke-width="1.1"/>
<line x1="84.33" y1="599.26" x2="90.93" y2="599.26" stroke="#e0a050" stroke-width="1.1"/>
<line x1="84.33" y1="607.26" x2="90.93" y2="607.26" stroke="#e0a050" stroke-width="1.1"/>
<line x1="94.96" y1="592.78" x2="94.96" y2="602.78" stroke="#e0a050" stroke-width="1.1"/>
<line x1="91.66" y1="592.78" x2="98.26" y2="592.78" stroke="#e0a050" stroke-width="1.1"/>
<line x1="91.66" y1="602.78" x2="98.26" y2="602.78" stroke="#e0a050" stroke-width="1.1"/>
<line x1="102.29" y1="588.54" x2="102.29" y2="601.54" stroke="#e0a050" stroke-width="1.1"/>
<line x1="98.99" y1="588.54" x2="105.59" y2="588.54" stroke="#e0a050" stroke-width="1.1"/>
<line x1="98.99" y1="601.54" x2="105.59" y2="601.54" stroke="#e0a050" stroke-width="1.1"/>
<line x1="112.06" y1="579.66" x2="112.06" y2="591.26" stroke="#e0a050" stroke-width="1.1"/>
<line x1="108.76" y1="579.66" x2="115.36" y2="579.66" stroke="#e0a050" stroke-width="1.1"/>
<line x1="108.76" y1="591.26" x2="115.36" y2="591.26" stroke="#e0a050" stroke-width="1.1"/>
<line x1="119.39" y1="572.38" x2="119.39" y2="592.38" stroke="#e0a050" stroke-width="1.1"/>
<line x1="116.09" y1="572.38" x2="122.69" y2="572.38" stroke="#e0a050" stroke-width="1.1"/>
<line x1="116.09" y1="592.38" x2="122.69" y2="592.38" stroke="#e0a050" stroke-width="1.1"/>
<line x1="129.16" y1="567.91" x2="129.16" y2="585.91" stroke="#e0a050" stroke-width="1.1"/>
<line x1="125.86" y1="567.91" x2="132.46" y2="567.91" stroke="#e0a050" stroke-width="1.1"/>
<line x1="125.86" y1="585.91" x2="132.46" y2="585.91" stroke="#e0a050" stroke-width="1.1"/>
<line x1="136.49" y1="562.26" x2="136.49" y2="580.26" stroke="#e0a050" stroke-width="1.1"/>
<line x1="133.19" y1="562.26" x2="139.79" y2="562.26" stroke="#e0a050" stroke-width="1.1"/>
<line x1="133.19" y1="580.26" x2="139.79" y2="580.26" stroke="#e0a050" stroke-width="1.1"/>
<line x1="146.26" y1="539.54" x2="146.26" y2="573.54" stroke="#e0a050" stroke-width="1.1"/>
<line x1="142.96" y1="539.54" x2="149.56" y2="539.54" stroke="#e0a050" stroke-width="1.1"/>
<line x1="142.96" y1="573.54" x2="149.56" y2="573.54" stroke="#e0a050" stroke-width="1.1"/>
<line x1="153.59" y1="544.45" x2="153.59" y2="574.45" stroke="#e0a050" stroke-width="1.1"/>
<line x1="150.29" y1="544.45" x2="156.89" y2="544.45" stroke="#e0a050" stroke-width="1.1"/>
<line x1="150.29" y1="574.45" x2="156.89" y2="574.45" stroke="#e0a050" stroke-width="1.1"/>
<line x1="163.36" y1="539.45" x2="163.36" y2="568.85" stroke="#e0a050" stroke-width="1.1"/>
<line x1="160.06" y1="539.45" x2="166.66" y2="539.45" stroke="#e0a050" stroke-width="1.1"/>
<line x1="160.06" y1="568.85" x2="166.66" y2="568.85" stroke="#e0a050" stroke-width="1.1"/>
<line x1="170.69" y1="530.16" x2="170.69" y2="566.16" stroke="#e0a050" stroke-width="1.1"/>
<line x1="167.39" y1="530.16" x2="173.99" y2="530.16" stroke="#e0a050" stroke-width="1.1"/>
<line x1="167.39" y1="566.16" x2="173.99" y2="566.16" stroke="#e0a050" stroke-width="1.1"/>
<line x1="180.46" y1="521.58" x2="180.46" y2="555.58" stroke="#e0a050" stroke-width="1.1"/>
<line x1="177.16" y1="521.58" x2="183.76" y2="521.58" stroke="#e0a050" stroke-width="1.1"/>
<line x1="177.16" y1="555.58" x2="183.76" y2="555.58" stroke="#e0a050" stroke-width="1.1"/>
<line x1="187.79" y1="509.34" x2="187.79" y2="549.34" stroke="#e0a050" stroke-width="1.1"/>
<line x1="184.49" y1="509.34" x2="191.09" y2="509.34" stroke="#e0a050" stroke-width="1.1"/>
<line x1="184.49" y1="549.34" x2="191.09" y2="549.34" stroke="#e0a050" stroke-width="1.1"/>
<line x1="200.01" y1="477.47" x2="200.01" y2="539.47" stroke="#e0a050" stroke-width="1.1"/>
<line x1="196.71" y1="477.47" x2="203.31" y2="477.47" stroke="#e0a050" stroke-width="1.1"/>
<line x1="196.71" y1="539.47" x2="203.31" y2="539.47" stroke="#e0a050" stroke-width="1.1"/>
<line x1="207.34" y1="471.94" x2="207.34" y2="529.94" stroke="#e0a050" stroke-width="1.1"/>
<line x1="204.04" y1="471.94" x2="210.64" y2="471.94" stroke="#e0a050" stroke-width="1.1"/>
<line x1="204.04" y1="529.94" x2="210.64" y2="529.94" stroke="#e0a050" stroke-width="1.1"/>
<line x1="214.67" y1="464.90" x2="214.67" y2="520.90" stroke="#e0a050" stroke-width="1.1"/>
<line x1="211.37" y1="464.90" x2="217.97" y2="464.90" stroke="#e0a050" stroke-width="1.1"/>
<line x1="211.37" y1="520.90" x2="217.97" y2="520.90" stroke="#e0a050" stroke-width="1.1"/>
<path d="M63.20,613.18 L70.53,609.24 L80.30,606.16 L87.63,603.26 L94.96,597.78 L102.29,595.04 L112.06,585.46 L119.39,582.38 L129.16,576.91 L136.49,571.26 L146.26,556.54 L153.59,559.45 L163.36,554.15 L170.69,548.16 L180.46,538.58 L187.79,529.34 L200.01,508.47 L207.34,500.94 L214.67,492.90" fill="none" stroke="#e68c2c" stroke-width="1.3" stroke-linejoin="round"/>
<path d="M63.20,609.83 L66.30,615.41 L60.10,615.41 Z" fill="#f28a18"/>
<path d="M70.53,605.90 L73.63,611.48 L67.43,611.48 Z" fill="#f28a18"/>
<path d="M80.30,602.82 L83.40,608.40 L77.20,608.40 Z" fill="#f28a18"/>
<path d="M87.63,599.91 L90.73,605.49 L84.53,605.49 Z" fill="#f28a18"/>
<path d="M94.96,594.43 L98.06,600.01 L91.86,600.01 Z" fill="#f28a18"/>
<path d="M102.29,591.69 L105.39,597.27 L99.19,597.27 Z" fill="#f28a18"/>
<path d="M112.06,582.11 L115.16,587.69 L108.96,587.69 Z" fill="#f28a18"/>
<path d="M119.39,579.03 L122.49,584.61 L116.29,584.61 Z" fill="#f28a18"/>
<path d="M129.16,573.56 L132.26,579.14 L126.06,579.14 Z" fill="#f28a18"/>
<path d="M136.49,567.91 L139.59,573.49 L133.39,573.49 Z" fill="#f28a18"/>
<path d="M146.26,553.20 L149.36,558.78 L143.16,558.78 Z" fill="#f28a18"/>
<path d="M153.59,556.11 L156.69,561.69 L150.49,561.69 Z" fill="#f28a18"/>
<path d="M163.36,550.80 L166.46,556.38 L160.26,556.38 Z" fill="#f28a18"/>
<path d="M170.69,544.81 L173.79,550.39 L167.59,550.39 Z" fill="#f28a18"/>
<path d="M180.46,535.23 L183.56,540.81 L177.36,540.81 Z" fill="#f28a18"/>
<path d="M187.79,525.99 L190.89,531.57 L184.69,531.57 Z" fill="#f28a18"/>
<path d="M200.01,505.12 L203.11,510.70 L196.91,510.70 Z" fill="#f28a18"/>
<path d="M207.34,497.59 L210.44,503.17 L204.24,503.17 Z" fill="#f28a18"/>
<path d="M214.67,489.55 L217.77,495.13 L211.57,495.13 Z" fill="#f28a18"/>
<line x1="129.16" y1="587.45" x2="129.16" y2="595.45" stroke="#2f7a2f" stroke-width="1.1"/>
<line x1="125.86" y1="587.45" x2="132.46" y2="587.45" stroke="#2f7a2f" stroke-width="1.1"/>
<line x1="125.86" y1="595.45" x2="132.46" y2="595.45" stroke="#2f7a2f" stroke-width="1.1"/>
<line x1="200.01" y1="610.02" x2="200.01" y2="630.02" stroke="#2f7a2f" stroke-width="1.1"/>
<line x1="196.71" y1="610.02" x2="203.31" y2="610.02" stroke="#2f7a2f" stroke-width="1.1"/>
<line x1="196.71" y1="630.02" x2="203.31" y2="630.02" stroke="#2f7a2f" stroke-width="1.1"/>
<line x1="207.34" y1="608.29" x2="207.34" y2="626.29" stroke="#2f7a2f" stroke-width="1.1"/>
<line x1="204.04" y1="608.29" x2="210.64" y2="608.29" stroke="#2f7a2f" stroke-width="1.1"/>
<line x1="204.04" y1="626.29" x2="210.64" y2="626.29" stroke="#2f7a2f" stroke-width="1.1"/>
<line x1="214.67" y1="606.75" x2="214.67" y2="624.75" stroke="#2f7a2f" stroke-width="1.1"/>
<line x1="211.37" y1="606.75" x2="217.97" y2="606.75" stroke="#2f7a2f" stroke-width="1.1"/>
<line x1="211.37" y1="624.75" x2="217.97" y2="624.75" stroke="#2f7a2f" stroke-width="1.1"/>
<line x1="224.44" y1="607.03" x2="224.44" y2="621.03" stroke="#2f7a2f" stroke-width="1.1"/>
<line x1="221.14" y1="607.03" x2="227.74" y2="607.03" stroke="#2f7a2f" stroke-width="1.1"/>
<line x1="221.14" y1="621.03" x2="227.74" y2="621.03" stroke="#2f7a2f" stroke-width="1.1"/>
<line x1="231.77" y1="591.95" x2="231.77" y2="619.35" stroke="#2f7a2f" stroke-width="1.1"/>
<line x1="228.47" y1="591.95" x2="235.07" y2="591.95" stroke="#2f7a2f" stroke-width="1.1"/>
<line x1="228.47" y1="619.35" x2="235.07" y2="619.35" stroke="#2f7a2f" stroke-width="1.1"/>
<path d="M63.20,613.18 L70.53,609.24 L80.30,606.16 L87.63,603.77 L94.96,600.35 L102.29,590.76 L112.06,587.69 L119.39,587.69 L129.16,591.45 L136.49,602.40 L146.26,611.47 L153.59,615.06 L163.36,620.02 L170.69,622.42 L180.46,623.62 L187.79,628.41 L200.01,620.02 L207.34,617.29 L214.67,615.75 L224.44,614.03 L231.77,605.65" fill="none" stroke="#237823" stroke-width="1.3" stroke-linejoin="round"/>
<path d="M63.20,616.63 L66.40,610.88 L60.00,610.88 Z" fill="#1a7a1a"/>
<path d="M70.53,612.70 L73.73,606.94 L67.33,606.94 Z" fill="#1a7a1a"/>
<path d="M80.30,609.62 L83.50,603.86 L77.10,603.86 Z" fill="#1a7a1a"/>
<path d="M87.63,607.22 L90.83,601.46 L84.43,601.46 Z" fill="#1a7a1a"/>
<path d="M94.96,603.80 L98.16,598.04 L91.76,598.04 Z" fill="#1a7a1a"/>
<path d="M102.29,594.22 L105.49,588.46 L99.09,588.46 Z" fill="#1a7a1a"/>
<path d="M112.06,591.14 L115.26,585.38 L108.86,585.38 Z" fill="#1a7a1a"/>
<path d="M119.39,591.14 L122.59,585.38 L116.19,585.38 Z" fill="#1a7a1a"/>
<path d="M129.16,594.91 L132.36,589.15 L125.96,589.15 Z" fill="#1a7a1a"/>
<path d="M136.49,605.86 L139.69,600.10 L133.29,600.10 Z" fill="#1a7a1a"/>
<path d="M146.26,614.92 L149.46,609.16 L143.06,609.16 Z" fill="#1a7a1a"/>
<path d="M153.59,618.52 L156.79,612.76 L150.39,612.76 Z" fill="#1a7a1a"/>
<path d="M163.36,623.48 L166.56,617.72 L160.16,617.72 Z" fill="#1a7a1a"/>
<path d="M170.69,625.87 L173.89,620.11 L167.49,620.11 Z" fill="#1a7a1a"/>
<path d="M180.46,627.07 L183.66,621.31 L177.26,621.31 Z" fill="#1a7a1a"/>
<path d="M187.79,631.86 L190.99,626.10 L184.59,626.10 Z" fill="#1a7a1a"/>
<path d="M200.01,623.48 L203.21,617.72 L196.81,617.72 Z" fill="#1a7a1a"/>
<path d="M207.34,620.74 L210.54,614.98 L204.14,614.98 Z" fill="#1a7a1a"/>
<path d="M214.67,619.20 L217.87,613.44 L211.47,613.44 Z" fill="#1a7a1a"/>
<path d="M224.44,617.49 L227.64,611.73 L221.24,611.73 Z" fill="#1a7a1a"/>
<path d="M231.77,609.11 L234.97,603.35 L228.57,603.35 Z" fill="#1a7a1a"/>
<path d="M60.10,617.30 L66.10,617.30 L63.10,625.60 Z" fill="#000"/>
<path d="M76.20,617.30 L82.20,617.30 L79.20,625.60 Z" fill="#000"/>
<path d="M92.50,617.30 L98.50,617.30 L95.50,625.60 Z" fill="#000"/>
<path d="M108.90,617.30 L114.90,617.30 L111.90,625.60 Z" fill="#000"/>
<line x1="69.4" y1="477.9" x2="86.4" y2="477.9" stroke="#e68c2c" stroke-width="1.8"/>
<path d="M77.50,474.66 L80.50,480.06 L74.50,480.06 Z" fill="#f28a18"/>
<text x="90.10" y="483.20" font-size="13.4" text-anchor="start" font-weight="normal" fill="#1a1a1a" stroke="#1a1a1a" stroke-width="0.45830279848122635" textLength="83.40" lengthAdjust="spacingAndGlyphs" >CtrlADCMMAE</text>
<line x1="69.4" y1="499.6" x2="86.4" y2="499.6" stroke="#237823" stroke-width="1.8"/>
<path d="M77.50,502.84 L80.50,497.44 L74.50,497.44 Z" fill="#1a7a1a"/>
<text x="92.30" y="504.70" font-size="13.4" text-anchor="start" font-weight="normal" fill="#1a1a1a" stroke="#1a1a1a" stroke-width="0.4592876843363891" textLength="88.20" lengthAdjust="spacingAndGlyphs" >M25ADCMMAE</text>
<text x="284.60" y="437.90" font-size="16.5" text-anchor="start" font-weight="bold" fill="#000" stroke="#000" stroke-width="0.4" >D</text>
<text x="386.90" y="447.50" font-size="12" text-anchor="start" font-weight="normal" fill="#1a1a1a" stroke="#1a1a1a" stroke-width="0.28779439124174344" textLength="89.20" lengthAdjust="spacingAndGlyphs" >Dual graft_M28</text>
<line x1="343.3" y1="460.9" x2="343.3" y2="637.3" stroke="#111" stroke-width="1.55"/>
<line x1="337.3" y1="632.0" x2="515.0849999999999" y2="632.0" stroke="#111" stroke-width="1.55"/>
<line x1="337.3" y1="632.00" x2="343.3" y2="632.00" stroke="#111" stroke-width="1.55"/>
<text x="335.30" y="635.00" font-size="9.2" text-anchor="end" font-weight="bold" fill="#111" stroke="#111" stroke-width="0.4" >0</text>
<line x1="337.3" y1="597.78" x2="343.3" y2="597.78" stroke="#111" stroke-width="1.55"/>
<text x="335.30" y="600.78" font-size="9.2" text-anchor="end" font-weight="bold" fill="#111" stroke="#111" stroke-width="0.4" >200</text>
<line x1="337.3" y1="563.56" x2="343.3" y2="563.56" stroke="#111" stroke-width="1.55"/>
<text x="335.30" y="566.56" font-size="9.2" text-anchor="end" font-weight="bold" fill="#111" stroke="#111" stroke-width="0.4" >400</text>
<line x1="337.3" y1="529.34" x2="343.3" y2="529.34" stroke="#111" stroke-width="1.55"/>
<text x="335.30" y="532.34" font-size="9.2" text-anchor="end" font-weight="bold" fill="#111" stroke="#111" stroke-width="0.4" >600</text>
<line x1="337.3" y1="495.12" x2="343.3" y2="495.12" stroke="#111" stroke-width="1.55"/>
<text x="335.30" y="498.12" font-size="9.2" text-anchor="end" font-weight="bold" fill="#111" stroke="#111" stroke-width="0.4" >800</text>
<line x1="337.3" y1="460.90" x2="343.3" y2="460.90" stroke="#111" stroke-width="1.55"/>
<text x="335.30" y="463.90" font-size="9.2" text-anchor="end" font-weight="bold" fill="#111" stroke="#111" stroke-width="0.4" >1,000</text>
<line x1="343.30" y1="632.0" x2="343.30" y2="637.3" stroke="#111" stroke-width="1.55"/>
<text x="343.30" y="647.60" font-size="9.2" text-anchor="middle" font-weight="bold" fill="#111" stroke="#111" stroke-width="0.4" >0</text>
<line x1="367.73" y1="632.0" x2="367.73" y2="637.3" stroke="#111" stroke-width="1.55"/>
<text x="367.73" y="647.60" font-size="9.2" text-anchor="middle" font-weight="bold" fill="#111" stroke="#111" stroke-width="0.4" >10</text>
<line x1="392.16" y1="632.0" x2="392.16" y2="637.3" stroke="#111" stroke-width="1.55"/>
<text x="392.16" y="647.60" font-size="9.2" text-anchor="middle" font-weight="bold" fill="#111" stroke="#111" stroke-width="0.4" >20</text>
<line x1="416.59" y1="632.0" x2="416.59" y2="637.3" stroke="#111" stroke-width="1.55"/>
<text x="416.59" y="647.60" font-size="9.2" text-anchor="middle" font-weight="bold" fill="#111" stroke="#111" stroke-width="0.4" >30</text>
<line x1="441.02" y1="632.0" x2="441.02" y2="637.3" stroke="#111" stroke-width="1.55"/>
<text x="441.02" y="647.60" font-size="9.2" text-anchor="middle" font-weight="bold" fill="#111" stroke="#111" stroke-width="0.4" >40</text>
<line x1="465.45" y1="632.0" x2="465.45" y2="637.3" stroke="#111" stroke-width="1.55"/>
<text x="465.45" y="647.60" font-size="9.2" text-anchor="middle" font-weight="bold" fill="#111" stroke="#111" stroke-width="0.4" >50</text>
<line x1="489.88" y1="632.0" x2="489.88" y2="637.3" stroke="#111" stroke-width="1.55"/>
<text x="489.88" y="647.60" font-size="9.2" text-anchor="middle" font-weight="bold" fill="#111" stroke="#111" stroke-width="0.4" >60</text>
<line x1="514.31" y1="632.0" x2="514.31" y2="637.3" stroke="#111" stroke-width="1.55"/>
<text x="514.31" y="647.60" font-size="9.2" text-anchor="middle" font-weight="bold" fill="#111" stroke="#111" stroke-width="0.4" >70</text>
<text x="405.10" y="661.50" font-size="12.6" text-anchor="start" font-weight="normal" fill="#1a1a1a" stroke="#1a1a1a" stroke-width="0.3766872843540282" textLength="56.20" lengthAdjust="spacingAndGlyphs" >Study day</text>
<text transform="translate(304.8,634.5) rotate(-90)" font-size="12.4" fill="#1a1a1a" stroke="#1a1a1a" stroke-width="0.38" textLength="170.5" lengthAdjust="spacingAndGlyphs">Normalized tumor growth (%)</text>
<line x1="409.26" y1="571.79" x2="409.26" y2="583.39" stroke="#2424b4" stroke-width="1.1"/>
<line x1="405.96" y1="571.79" x2="412.56" y2="571.79" stroke="#2424b4" stroke-width="1.1"/>
<line x1="405.96" y1="583.39" x2="412.56" y2="583.39" stroke="#2424b4" stroke-width="1.1"/>
<line x1="416.59" y1="566.66" x2="416.59" y2="575.86" stroke="#2424b4" stroke-width="1.1"/>
<line x1="413.29" y1="566.66" x2="419.89" y2="566.66" stroke="#2424b4" stroke-width="1.1"/>
<line x1="413.29" y1="575.86" x2="419.89" y2="575.86" stroke="#2424b4" stroke-width="1.1"/>
<line x1="426.36" y1="552.80" x2="426.36" y2="564.40" stroke="#2424b4" stroke-width="1.1"/>
<line x1="423.06" y1="552.80" x2="429.66" y2="552.80" stroke="#2424b4" stroke-width="1.1"/>
<line x1="423.06" y1="564.40" x2="429.66" y2="564.40" stroke="#2424b4" stroke-width="1.1"/>
<line x1="433.69" y1="536.79" x2="433.69" y2="556.79" stroke="#2424b4" stroke-width="1.1"/>
<line x1="430.39" y1="536.79" x2="436.99" y2="536.79" stroke="#2424b4" stroke-width="1.1"/>
<line x1="430.39" y1="556.79" x2="436.99" y2="556.79" stroke="#2424b4" stroke-width="1.1"/>
<line x1="443.46" y1="530.59" x2="443.46" y2="547.59" stroke="#2424b4" stroke-width="1.1"/>
<line x1="440.16" y1="530.59" x2="446.76" y2="530.59" stroke="#2424b4" stroke-width="1.1"/>
<line x1="440.16" y1="547.59" x2="446.76" y2="547.59" stroke="#2424b4" stroke-width="1.1"/>
<line x1="450.79" y1="522.91" x2="450.79" y2="540.91" stroke="#2424b4" stroke-width="1.1"/>
<line x1="447.49" y1="522.91" x2="454.09" y2="522.91" stroke="#2424b4" stroke-width="1.1"/>
<line x1="447.49" y1="540.91" x2="454.09" y2="540.91" stroke="#2424b4" stroke-width="1.1"/>
<line x1="460.56" y1="517.51" x2="460.56" y2="530.91" stroke="#2424b4" stroke-width="1.1"/>
<line x1="457.26" y1="517.51" x2="463.86" y2="517.51" stroke="#2424b4" stroke-width="1.1"/>
<line x1="457.26" y1="530.91" x2="463.86" y2="530.91" stroke="#2424b4" stroke-width="1.1"/>
<line x1="467.89" y1="507.17" x2="467.89" y2="525.17" stroke="#2424b4" stroke-width="1.1"/>
<line x1="464.59" y1="507.17" x2="471.19" y2="507.17" stroke="#2424b4" stroke-width="1.1"/>
<line x1="464.59" y1="525.17" x2="471.19" y2="525.17" stroke="#2424b4" stroke-width="1.1"/>
<line x1="480.11" y1="490.78" x2="480.11" y2="514.18" stroke="#2424b4" stroke-width="1.1"/>
<line x1="476.81" y1="490.78" x2="483.41" y2="490.78" stroke="#2424b4" stroke-width="1.1"/>
<line x1="476.81" y1="514.18" x2="483.41" y2="514.18" stroke="#2424b4" stroke-width="1.1"/>
<line x1="487.44" y1="485.27" x2="487.44" y2="500.87" stroke="#2424b4" stroke-width="1.1"/>
<line x1="484.14" y1="485.27" x2="490.74" y2="485.27" stroke="#2424b4" stroke-width="1.1"/>
<line x1="484.14" y1="500.87" x2="490.74" y2="500.87" stroke="#2424b4" stroke-width="1.1"/>
<line x1="494.77" y1="468.53" x2="494.77" y2="491.93" stroke="#2424b4" stroke-width="1.1"/>
<line x1="491.47" y1="468.53" x2="498.07" y2="468.53" stroke="#2424b4" stroke-width="1.1"/>
<line x1="491.47" y1="491.93" x2="498.07" y2="491.93" stroke="#2424b4" stroke-width="1.1"/>
<path d="M343.30,614.55 L350.63,610.78 L360.40,606.85 L367.73,602.91 L375.06,600.00 L382.39,596.24 L392.16,589.23 L399.49,584.61 L409.26,577.59 L416.59,571.26 L426.36,558.60 L433.69,546.79 L443.46,539.09 L450.79,531.91 L460.56,524.21 L467.89,516.17 L480.11,502.48 L487.44,493.07 L494.77,480.23" fill="none" stroke="#1c1cc4" stroke-width="1.3" stroke-linejoin="round"/>
<circle cx="343.30" cy="614.55" r="3.20" fill="#1616d8"/>
<circle cx="350.63" cy="610.78" r="3.20" fill="#1616d8"/>
<circle cx="360.40" cy="606.85" r="3.20" fill="#1616d8"/>
<circle cx="367.73" cy="602.91" r="3.20" fill="#1616d8"/>
<circle cx="375.06" cy="600.00" r="3.20" fill="#1616d8"/>
<circle cx="382.39" cy="596.24" r="3.20" fill="#1616d8"/>
<circle cx="392.16" cy="589.23" r="3.20" fill="#1616d8"/>
<circle cx="399.49" cy="584.61" r="3.20" fill="#1616d8"/>
<circle cx="409.26" cy="577.59" r="3.20" fill="#1616d8"/>
<circle cx="416.59" cy="571.26" r="3.20" fill="#1616d8"/>
<circle cx="426.36" cy="558.60" r="3.20" fill="#1616d8"/>
<circle cx="433.69" cy="546.79" r="3.20" fill="#1616d8"/>
<circle cx="443.46" cy="539.09" r="3.20" fill="#1616d8"/>
<circle cx="450.79" cy="531.91" r="3.20" fill="#1616d8"/>
<circle cx="460.56" cy="524.21" r="3.20" fill="#1616d8"/>
<circle cx="467.89" cy="516.17" r="3.20" fill="#1616d8"/>
<circle cx="480.11" cy="502.48" r="3.20" fill="#1616d8"/>
<circle cx="487.44" cy="493.07" r="3.20" fill="#1616d8"/>
<circle cx="494.77" cy="480.23" r="3.20" fill="#1616d8"/>
<line x1="426.36" y1="613.10" x2="426.36" y2="622.50" stroke="#cc3030" stroke-width="1.1"/>
<line x1="423.06" y1="613.10" x2="429.66" y2="613.10" stroke="#cc3030" stroke-width="1.1"/>
<line x1="423.06" y1="622.50" x2="429.66" y2="622.50" stroke="#cc3030" stroke-width="1.1"/>
<line x1="433.69" y1="613.15" x2="433.69" y2="624.15" stroke="#cc3030" stroke-width="1.1"/>
<line x1="430.39" y1="613.15" x2="436.99" y2="613.15" stroke="#cc3030" stroke-width="1.1"/>
<line x1="430.39" y1="624.15" x2="436.99" y2="624.15" stroke="#cc3030" stroke-width="1.1"/>
<line x1="443.46" y1="615.38" x2="443.46" y2="626.38" stroke="#cc3030" stroke-width="1.1"/>
<line x1="440.16" y1="615.38" x2="446.76" y2="615.38" stroke="#cc3030" stroke-width="1.1"/>
<line x1="440.16" y1="626.38" x2="446.76" y2="626.38" stroke="#cc3030" stroke-width="1.1"/>
<line x1="450.79" y1="616.58" x2="450.79" y2="627.58" stroke="#cc3030" stroke-width="1.1"/>
<line x1="447.49" y1="616.58" x2="454.09" y2="616.58" stroke="#cc3030" stroke-width="1.1"/>
<line x1="447.49" y1="627.58" x2="454.09" y2="627.58" stroke="#cc3030" stroke-width="1.1"/>
<line x1="460.56" y1="607.65" x2="460.56" y2="629.65" stroke="#cc3030" stroke-width="1.1"/>
<line x1="457.26" y1="607.65" x2="463.86" y2="607.65" stroke="#cc3030" stroke-width="1.1"/>
<line x1="457.26" y1="629.65" x2="463.86" y2="629.65" stroke="#cc3030" stroke-width="1.1"/>
<line x1="467.89" y1="600.95" x2="467.89" y2="630.55" stroke="#cc3030" stroke-width="1.1"/>
<line x1="464.59" y1="600.95" x2="471.19" y2="600.95" stroke="#cc3030" stroke-width="1.1"/>
<line x1="464.59" y1="630.55" x2="471.19" y2="630.55" stroke="#cc3030" stroke-width="1.1"/>
<line x1="480.11" y1="593.15" x2="480.11" y2="628.75" stroke="#cc3030" stroke-width="1.1"/>
<line x1="476.81" y1="593.15" x2="483.41" y2="593.15" stroke="#cc3030" stroke-width="1.1"/>
<line x1="476.81" y1="628.75" x2="483.41" y2="628.75" stroke="#cc3030" stroke-width="1.1"/>
<line x1="487.44" y1="590.91" x2="487.44" y2="627.91" stroke="#cc3030" stroke-width="1.1"/>
<line x1="484.14" y1="590.91" x2="490.74" y2="590.91" stroke="#cc3030" stroke-width="1.1"/>
<line x1="484.14" y1="627.91" x2="490.74" y2="627.91" stroke="#cc3030" stroke-width="1.1"/>
<line x1="494.77" y1="587.86" x2="494.77" y2="626.86" stroke="#cc3030" stroke-width="1.1"/>
<line x1="491.47" y1="587.86" x2="498.07" y2="587.86" stroke="#cc3030" stroke-width="1.1"/>
<line x1="491.47" y1="626.86" x2="498.07" y2="626.86" stroke="#cc3030" stroke-width="1.1"/>
<line x1="504.54" y1="585.75" x2="504.54" y2="623.15" stroke="#cc3030" stroke-width="1.1"/>
<line x1="501.24" y1="585.75" x2="507.84" y2="585.75" stroke="#cc3030" stroke-width="1.1"/>
<line x1="501.24" y1="623.15" x2="507.84" y2="623.15" stroke="#cc3030" stroke-width="1.1"/>
<line x1="511.87" y1="580.52" x2="511.87" y2="615.72" stroke="#cc3030" stroke-width="1.1"/>
<line x1="508.57" y1="580.52" x2="515.17" y2="580.52" stroke="#cc3030" stroke-width="1.1"/>
<line x1="508.57" y1="615.72" x2="515.17" y2="615.72" stroke="#cc3030" stroke-width="1.1"/>
<path d="M343.30,614.55 L350.63,608.90 L360.40,605.82 L367.73,601.54 L375.06,596.58 L382.39,589.23 L392.16,588.54 L399.49,584.61 L409.26,600.35 L416.59,605.65 L426.36,617.80 L433.69,618.65 L443.46,620.88 L450.79,622.08 L460.56,618.65 L467.89,615.75 L480.11,610.95 L487.44,609.41 L494.77,607.36 L504.54,604.45 L511.87,598.12" fill="none" stroke="#e81818" stroke-width="1.3" stroke-linejoin="round"/>
<rect x="340.30" y="611.55" width="6.00" height="6.00" fill="#f20c0c"/>
<rect x="347.63" y="605.90" width="6.00" height="6.00" fill="#f20c0c"/>
<rect x="357.40" y="602.82" width="6.00" height="6.00" fill="#f20c0c"/>
<rect x="364.73" y="598.54" width="6.00" height="6.00" fill="#f20c0c"/>
<rect x="372.06" y="593.58" width="6.00" height="6.00" fill="#f20c0c"/>
<rect x="379.39" y="586.23" width="6.00" height="6.00" fill="#f20c0c"/>
<rect x="389.16" y="585.54" width="6.00" height="6.00" fill="#f20c0c"/>
<rect x="396.49" y="581.61" width="6.00" height="6.00" fill="#f20c0c"/>
<rect x="406.26" y="597.35" width="6.00" height="6.00" fill="#f20c0c"/>
<rect x="413.59" y="602.65" width="6.00" height="6.00" fill="#f20c0c"/>
<rect x="423.36" y="614.80" width="6.00" height="6.00" fill="#f20c0c"/>
<rect x="430.69" y="615.65" width="6.00" height="6.00" fill="#f20c0c"/>
<rect x="440.46" y="617.88" width="6.00" height="6.00" fill="#f20c0c"/>
<rect x="447.79" y="619.08" width="6.00" height="6.00" fill="#f20c0c"/>
<rect x="457.56" y="615.65" width="6.00" height="6.00" fill="#f20c0c"/>
<rect x="464.89" y="612.75" width="6.00" height="6.00" fill="#f20c0c"/>
<rect x="477.11" y="607.95" width="6.00" height="6.00" fill="#f20c0c"/>
<rect x="484.44" y="606.41" width="6.00" height="6.00" fill="#f20c0c"/>
<rect x="491.77" y="604.36" width="6.00" height="6.00" fill="#f20c0c"/>
<rect x="501.54" y="601.45" width="6.00" height="6.00" fill="#f20c0c"/>
<rect x="508.87" y="595.12" width="6.00" height="6.00" fill="#f20c0c"/>
<path d="M342.40,614.40 L348.40,614.40 L345.40,622.60 Z" fill="#000"/>
<path d="M358.50,614.40 L364.50,614.40 L361.50,622.60 Z" fill="#000"/>
<path d="M375.00,614.40 L381.00,614.40 L378.00,622.60 Z" fill="#000"/>
<path d="M391.50,614.40 L397.50,614.40 L394.50,622.60 Z" fill="#000"/>
<line x1="349.5" y1="478.6" x2="366.5" y2="478.6" stroke="#1c1cc4" stroke-width="1.8"/>
<circle cx="357.60" cy="478.60" r="3.00" fill="#1616d8"/>
<text x="370.00" y="483.20" font-size="13.4" text-anchor="start" font-weight="normal" fill="#1a1a1a" stroke="#1a1a1a" stroke-width="0.4530227159799374" textLength="83.80" lengthAdjust="spacingAndGlyphs" >CtrlADCMMAE</text>
<line x1="349.5" y1="496.3" x2="366.5" y2="496.3" stroke="#e81818" stroke-width="1.8"/>
<rect x="354.60" y="493.30" width="6.00" height="6.00" fill="#f20c0c"/>
<text x="370.00" y="502.30" font-size="13.4" text-anchor="start" font-weight="normal" fill="#1a1a1a" stroke="#1a1a1a" stroke-width="0.43684049422080523" textLength="90.00" lengthAdjust="spacingAndGlyphs" >M25ADCMMAE</text>
</svg></body></html>
